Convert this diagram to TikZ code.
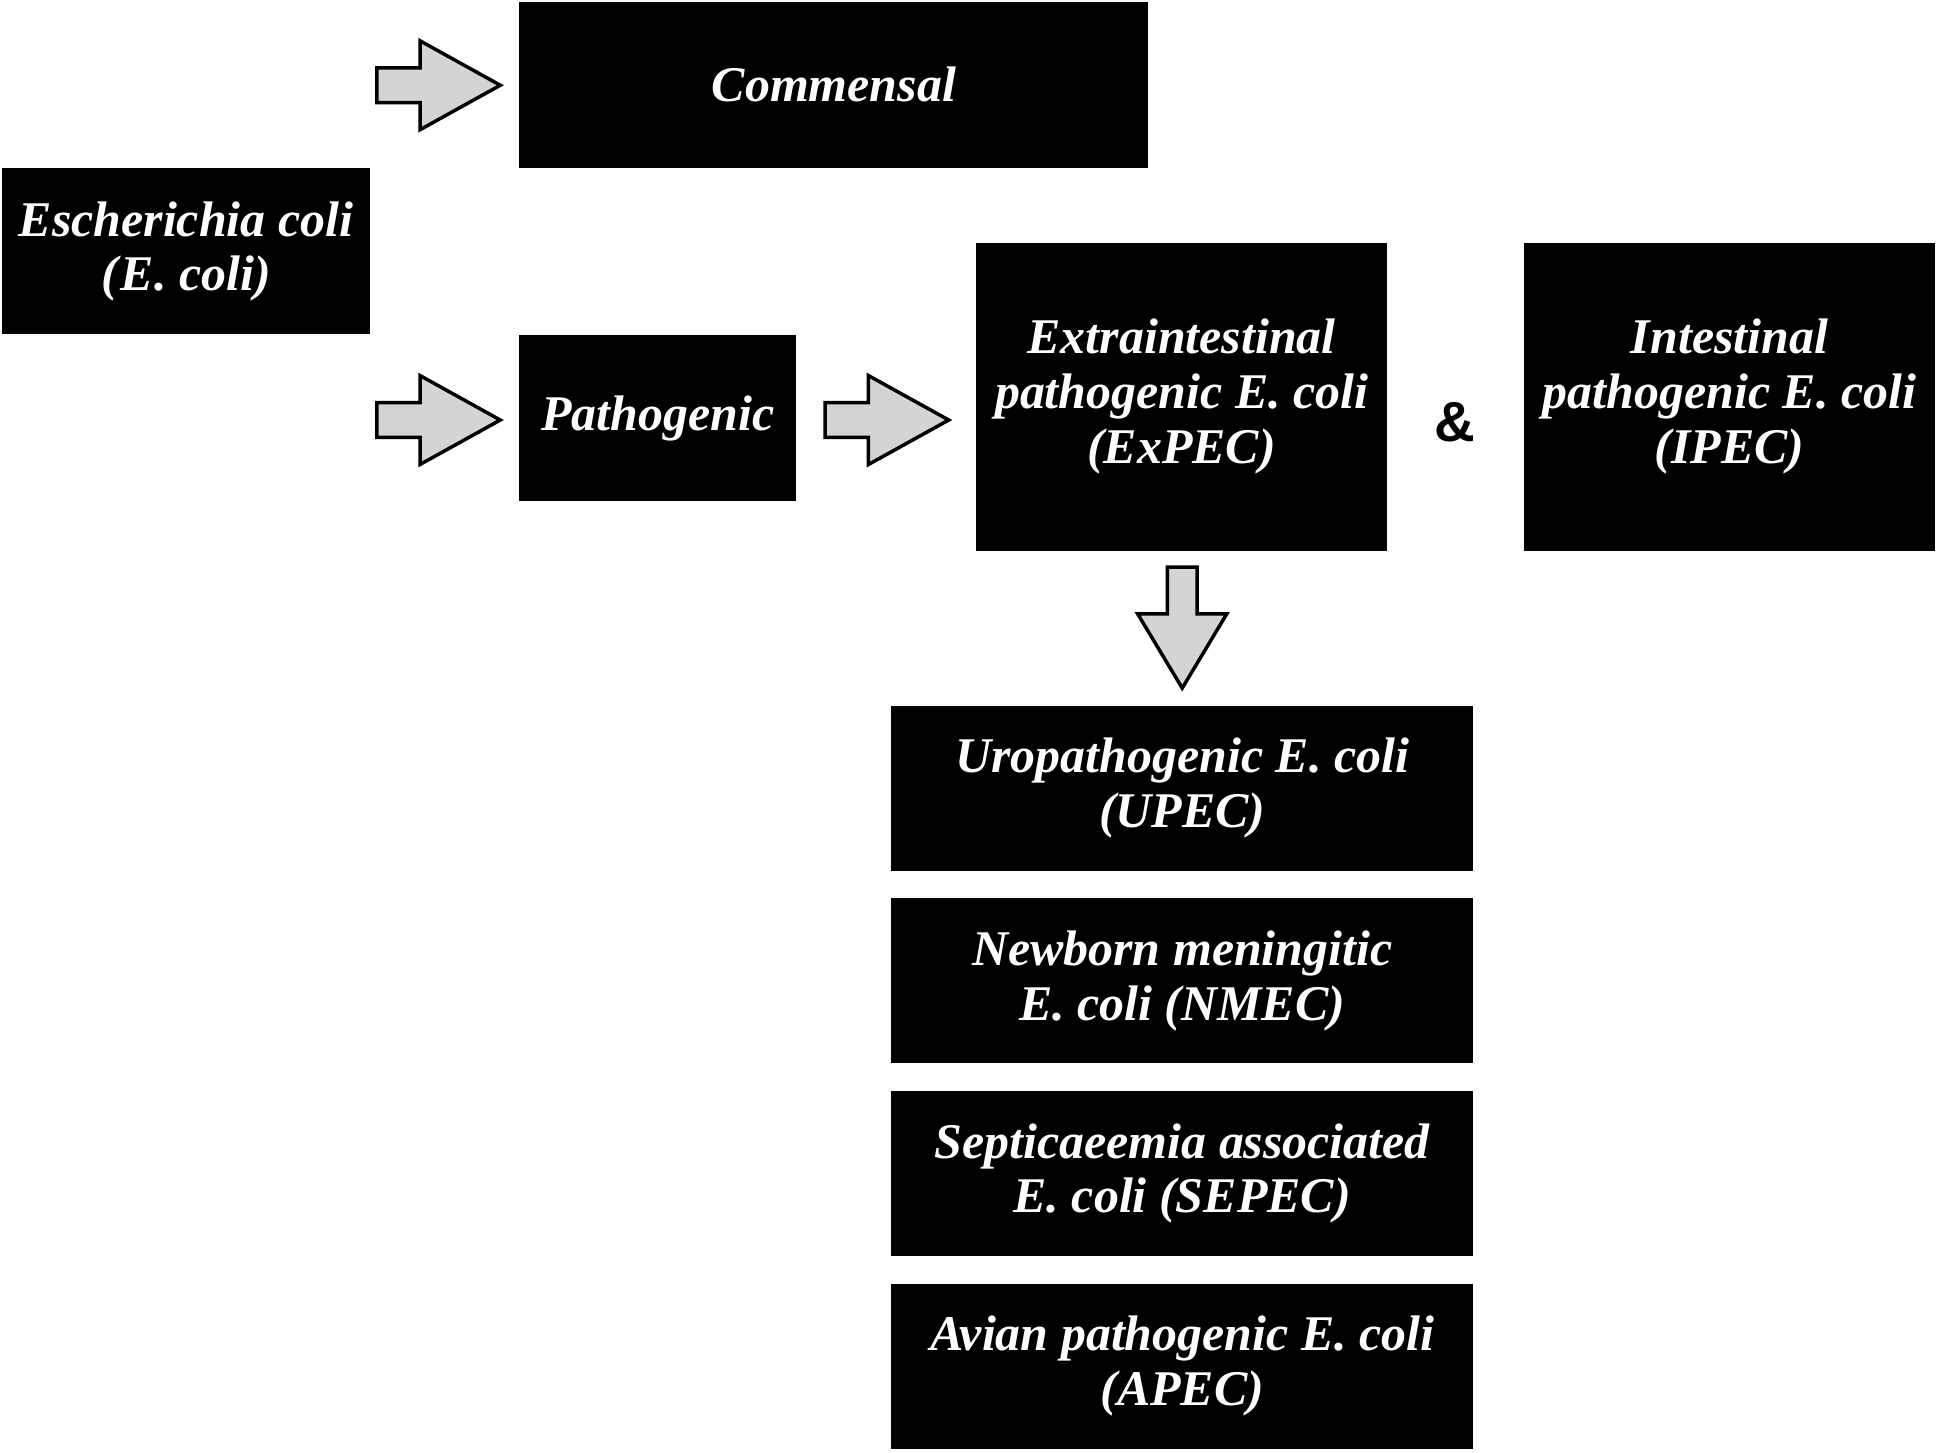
\documentclass[tikz,border=0pt]{standalone}
\usepackage{fontspec}
\setmainfont{Liberation Serif}
\setsansfont{Liberation Sans}
\begin{document}
\begin{tikzpicture}[x=0.1mm,y=-0.1mm,
 box/.style={draw=black,fill=black,text=white,align=center,inner sep=0pt,
   font=\fontsize{11.5}{12.6}\selectfont\bfseries\itshape},
 blk/.style={draw=black,fill=black!17,line width=0.8pt,line join=miter}]
\useasboundingbox (0,0) rectangle (1568,1176);
\newcommand{\harrow}[2]{\draw[blk] (#1,#2-14) -- (#1+35,#2-14) -- (#1+35,#2-36) -- (#1+100,#2) -- (#1+35,#2+36) -- (#1+35,#2+14) -- (#1,#2+14) -- cycle;}
\node[box,minimum width=29.7mm,minimum height=13.3mm] (ec) at (150.5,203.5) {Escherichia coli\\(\textup{\bfseries\itshape E. coli})};
\node[box,minimum width=50.8mm,minimum height=13.3mm] (com) at (675,68.5) {Commensal};
\node[box,minimum width=22.3mm,minimum height=13.3mm] (pat) at (532.5,338.5) {Pathogenic};
\node[box,minimum width=33.1mm,minimum height=24.8mm] (ex) at (956.5,321) {Extraintestinal\\pathogenic E. coli\\(ExPEC)};
\node[box,minimum width=33.2mm,minimum height=24.8mm] (ip) at (1400,321) {Intestinal\\pathogenic E. coli\\(IPEC)};
\node[font=\sffamily\bfseries\fontsize{13}{14}\selectfont] (amp) at (1178,342) {\&};
\node[box,minimum width=47mm,minimum height=13.2mm] (up) at (957,638) {Uropathogenic E. coli\\(UPEC)};
\node[box,minimum width=47mm,minimum height=13.2mm] (nm) at (957,794) {Newborn meningitic\\E. coli (NMEC)};
\node[box,minimum width=47mm,minimum height=13.2mm] (se) at (957,950) {Septicaeemia associated\\E. coli (SEPEC)};
\node[box,minimum width=47mm,minimum height=13.2mm] (ap) at (957,1106) {Avian pathogenic E. coli\\(APEC)};
\harrow{305}{69}
\harrow{305}{340}
\harrow{668}{340}
\draw[blk] (945,459) -- (969,459) -- (969,497) -- (993,497) -- (957,557) -- (921,497) -- (945,497) -- cycle;
\end{tikzpicture}
\end{document}
